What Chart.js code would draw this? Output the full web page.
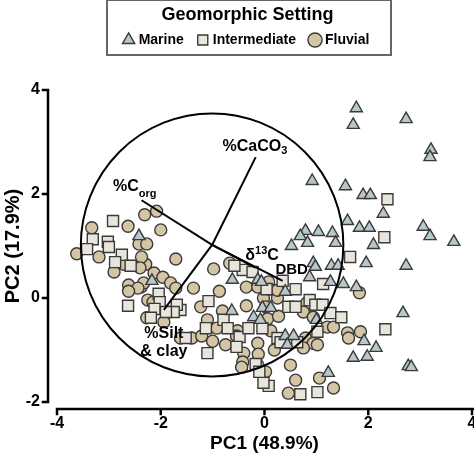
<!DOCTYPE html>
<html><head><meta charset="utf-8">
<script src="https://cdn.jsdelivr.net/npm/chart.js@4/dist/chart.umd.min.js"></script>
<style>html,body{margin:0;padding:0;background:#fff}#wrap{width:474px;height:474px}</style>
</head><body><div id="wrap"><canvas id="c" width="474" height="474"></canvas></div>
<script>
// ---------- DATA ----------
const seriesNames = ['Marine', 'Intermediate', 'Fluvial'];
const legendTitle = 'Geomorphic Setting';
const xTitle = 'PC1 (48.9%)';
const yTitle = 'PC2 (17.9%)';
const xTicks = [-4, -2, 0, 2, 4];
const yTicks = [-2, 0, 2, 4];

const marineX = [1.77,1.71,2.73,3.21,3.19,0.92,1.56,1.90,2.04,2.29,1.60,1.83,2.02,3.06,3.19,3.65,2.10,0.79,0.69,1.04,1.31,0.83,1.37,0.52,1.96,2.73,0.94,1.29,1.42,0.87,1.27,1.52,1.77,2.67,1.92,2.15,1.71,1.98,2.77,2.83,1.23,1.00,-0.63,-0.21,-0.08,-0.04,0.12,0.40,0.56,0.44,-0.62,-0.13,-0.06,0.40,-2.42,-2.17,0.98];
const marineY = [3.65,3.33,3.44,2.85,2.71,2.25,2.15,1.98,1.98,1.62,1.48,1.35,1.35,1.37,1.19,1.08,1.02,1.29,1.19,1.27,1.25,1.06,1.06,1.00,0.67,0.62,0.67,0.62,0.62,0.40,0.31,0.27,0.21,-0.29,-0.83,-0.96,-1.15,-1.13,-1.31,-1.33,-1.44,-0.42,-0.25,-0.37,-0.42,-0.19,-0.19,-0.73,-0.73,-0.90,0.35,0.35,0.31,0.12,1.19,0.33,0.60];

const interX = [2.37,2.31,1.65,1.13,2.33,0.87,0.98,1.12,1.27,1.48,1.02,1.02,0.69,0.08,-0.02,-1.08,0.46,0.60,-0.79,-1.13,-0.71,-0.48,-0.31,-0.04,0.25,0.31,0.63,-1.52,-0.54,-1.10,-0.17,-0.10,-1.62,-0.42,-0.23,-0.58,0.35,0.04,0.60,-2.92,-3.31,-3.42,-3.02,-3.00,-2.75,-2.88,-2.58,-2.04,-2.63,-2.02,-1.69,-2.12,-1.75,-1.90,-2.19];
const interY = [1.90,1.17,0.79,0.27,-0.60,-0.04,-0.13,-0.13,-0.29,-0.37,-0.65,-1.81,-1.85,-1.69,-1.63,-0.06,-0.17,-0.17,-0.42,-0.58,-0.58,-0.75,-0.58,-0.58,-0.77,-0.85,-0.85,-0.77,-0.94,-1.06,-1.27,-1.42,-0.23,0.54,0.50,0.62,0.33,0.17,0.17,1.48,1.13,0.94,1.08,0.98,0.83,0.69,0.62,0.08,-0.15,-0.08,-0.13,-0.21,-0.27,-0.27,-0.38];

const fluvialX = [1.83,1.60,1.62,1.85,1.06,1.33,0.60,0.50,0.46,-0.13,0.02,0.81,0.75,0.94,1.21,1.33,0.79,0.94,1.02,0.75,-1.23,-0.81,-0.35,-0.02,0.02,0.25,-1.10,0.06,0.27,-0.92,-0.52,-0.54,0.12,-1.40,-1.21,-1.00,-1.62,-0.75,-0.13,-0.12,-0.40,0.19,-0.42,-0.44,-0.67,-0.98,-1.37,-0.87,-0.35,0.08,0.10,0.25,-0.13,-2.31,-2.08,-2.63,-2.00,-3.33,-3.62,-3.19,-2.29,-2.90,-2.71,-2.62,-2.38,-2.33,-2.13,-1.96,-1.81,-1.71,-1.71,-2.42,-2.27,-2.37,-2.44,-2.62,-2.25,-2.15,-2.27,-1.94,-2.40];
const fluvialY = [0.10,-0.67,-0.77,-0.65,-1.54,-1.73,-1.58,-1.29,-1.83,-1.29,-1.42,-0.10,-0.27,-0.37,-0.56,-0.56,-0.77,-0.87,-0.90,-0.96,-0.17,-0.25,-0.15,0.00,-0.17,0.00,-0.42,-0.40,-0.35,-0.58,-0.63,-0.73,-0.63,-0.77,-0.73,-0.83,-0.77,-0.90,-0.87,-1.08,-1.06,-1.00,-1.23,-1.33,0.67,0.56,0.19,0.13,0.21,0.31,0.17,0.15,0.21,1.60,1.67,1.38,1.31,1.35,0.85,0.79,0.65,0.50,0.65,0.25,0.21,0.29,0.48,0.40,0.29,0.19,0.75,1.04,1.04,0.79,0.19,0.13,-0.04,-0.08,-0.38,-0.46,0.58];

// correlation circle and loading vectors (data units)
const circleCenter = [-1.01, 1.02];
const circleRadius = 2.53;
const loadingNames = ['%CaCO3', '%Corg', 'δ13C', 'DBD', '%Silt & clay'];
const loadingX = [-0.17, -2.37, -0.17, 0.35, -1.94];
const loadingY = [2.71, 1.88, 0.58, 0.33, -0.23];

// ---------- STYLE / LAYOUT ----------
const FONT = "'Liberation Sans', Arial, Helvetica, sans-serif";
Chart.defaults.font.family = FONT;
Chart.defaults.color = '#000';
const EDGE = '#3a3a3a';
const LEGEND_HEIGHT = 90;
const LEGEND_SHIFT = 10.5;

// label anchors for loading names (data units); parts: [text, size, dy]
const loadingLabels = [
  {x: -0.81, y: 2.92, align: 'left', parts: [['%CaCO', 16, 0], ['3', 11, 5]]},
  {x: -2.92, y: 2.15, align: 'left', parts: [['%C', 16, 0], ['org', 11, 8]]},
  {x: -0.37, y: 0.81, align: 'left', parts: [['δ', 16, 0], ['13', 11, -5], ['C', 16, 0]]},
  {x: 0.21, y: 0.54, align: 'left', parts: [['DBD', 15, 0]]},
  {x: -1.94, y: -0.69, align: 'center', parts: [['%Silt', 16, 0]]},
  {x: -1.94, y: -1.04, align: 'center', parts: [['& clay', 16, 0]]}
];

const pts = (xs, ys) => xs.map((v, i) => ({x: v, y: ys[i]}));

function drawRich(ctx, def, px, py) {
  const widths = def.parts.map(p => { ctx.font = 'bold ' + p[1] + 'px ' + FONT; return ctx.measureText(p[0]).width; });
  const total = widths.reduce((a, b) => a + b, 0);
  let cx = def.align === 'center' ? px - total / 2 : px;
  ctx.textAlign = 'left'; ctx.textBaseline = 'middle'; ctx.fillStyle = '#000';
  def.parts.forEach((p, i) => {
    ctx.font = 'bold ' + p[1] + 'px ' + FONT;
    ctx.fillText(p[0], cx, py + p[2]);
    cx += widths[i];
  });
}

const overlay = {
  id: 'overlay',
  beforeLayout(chart) {
    const lg = chart.legend;
    if (lg && !lg._patched) {
      const fit = lg.fit.bind(lg);
      lg.fit = function () { fit(); this.height = LEGEND_HEIGHT; };
      const draw = lg.draw.bind(lg);
      lg.draw = function () { const c = this.ctx; c.save(); c.translate(LEGEND_SHIFT, 0); draw(); c.restore(); };
      lg._patched = true;
    }
  },
  afterDatasetsDraw(chart) {
    const {ctx, scales: {x, y}} = chart;
    ctx.save();
    ctx.strokeStyle = '#000';
    ctx.lineWidth = 2;
    const cx = x.getPixelForValue(circleCenter[0]);
    const cy = y.getPixelForValue(circleCenter[1]);
    const rx = Math.abs(x.getPixelForValue(circleCenter[0] + circleRadius) - cx);
    const ry = Math.abs(y.getPixelForValue(circleCenter[1] + circleRadius) - cy);
    ctx.beginPath(); ctx.ellipse(cx, cy, rx, ry, 0, 0, Math.PI * 2); ctx.stroke();
    loadingX.forEach((lx, i) => {
      ctx.beginPath(); ctx.moveTo(cx, cy);
      ctx.lineTo(x.getPixelForValue(lx), y.getPixelForValue(loadingY[i]));
      ctx.stroke();
    });
    loadingLabels.forEach(def => drawRich(ctx, def, x.getPixelForValue(def.x), y.getPixelForValue(def.y)));
    ctx.restore();
  },
  afterDraw(chart) {
    const {ctx, chartArea, scales: {x, y}} = chart;
    ctx.save();
    ctx.strokeStyle = '#000';
    ctx.lineWidth = 2.5;
    ctx.lineCap = 'square';
    // y axis (offset from plot area)
    const ax = chartArea.left - 9;
    ctx.beginPath();
    ctx.moveTo(ax, y.getPixelForValue(yTicks[yTicks.length - 1]));
    ctx.lineTo(ax, y.getPixelForValue(yTicks[0]));
    yTicks.forEach(v => { const p = y.getPixelForValue(v); ctx.moveTo(ax, p); ctx.lineTo(ax - 5, p); });
    ctx.stroke();
    // x axis (offset from plot area)
    const ay = chartArea.bottom + 7;
    ctx.beginPath();
    ctx.moveTo(x.getPixelForValue(xTicks[0]), ay);
    ctx.lineTo(chart.width + 2, ay);
    xTicks.forEach(v => { const p = x.getPixelForValue(v); ctx.moveTo(p, ay); ctx.lineTo(p, ay + 5); });
    ctx.stroke();
    // legend frame
    ctx.lineCap = 'butt';
    ctx.strokeStyle = '#666';
    ctx.lineWidth = 2;
    ctx.strokeRect(107, 0, 284, 55);
    ctx.restore();
  }
};

new Chart(document.getElementById('c'), {
  type: 'scatter',
  data: {
    datasets: [
      {label: seriesNames[0], data: pts(marineX, marineY), pointStyle: 'triangle', pointRadius: 7,
       backgroundColor: '#b7c7cc', borderColor: EDGE, borderWidth: 1.4},
      {label: seriesNames[1], data: pts(interX, interY), pointStyle: 'rect', pointRadius: 7.8,
       backgroundColor: '#e8e6dc', borderColor: EDGE, borderWidth: 1.4},
      {label: seriesNames[2], data: pts(fluvialX, fluvialY), pointStyle: 'circle', pointRadius: 6,
       backgroundColor: '#d4c5a5', borderColor: EDGE, borderWidth: 1.4}
    ]
  },
  options: {
    responsive: false,
    animation: false,
    devicePixelRatio: 1,
    layout: {padding: 0, autoPadding: false},
    plugins: {
      tooltip: {enabled: false},
      legend: {
        position: 'top',
        title: {display: true, text: legendTitle, font: {size: 18, weight: 'bold', lineHeight: 0.611}, padding: {top: 6, bottom: 0}},
        labels: {usePointStyle: true, boxWidth: 6, boxHeight: 10, padding: 16, font: {size: 14, weight: 'bold'}, color: '#000'}
      }
    },
    scales: {
      x: {
        type: 'linear', min: -4, max: 4,
        afterBuildTicks: s => { s.ticks = xTicks.map(v => ({value: v})); },
        afterFit: s => { s.height = 72; s.paddingRight = 2; s.paddingLeft = 0; },
        ticks: {font: {size: 16, weight: 'bold'}, color: '#000', padding: 12, maxRotation: 0},
        grid: {display: false, drawTicks: false},
        border: {display: false},
        title: {display: true, text: xTitle, font: {size: 19, weight: 'bold'}, color: '#000', padding: {top: 0, bottom: 19}}
      },
      y: {
        type: 'linear', min: -2, max: 4,
        afterBuildTicks: s => { s.ticks = yTicks.map(v => ({value: v})); },
        afterFit: s => { s.width = 57; },
        ticks: {font: {size: 16, weight: 'bold'}, color: '#000', padding: 17},
        grid: {display: false, drawTicks: false},
        border: {display: false},
        title: {display: true, text: yTitle, font: {size: 20, weight: 'bold'}, color: '#000', padding: {top: 1, bottom: 0}}
      }
    }
  },
  plugins: [overlay]
});
</script>
</body></html>
